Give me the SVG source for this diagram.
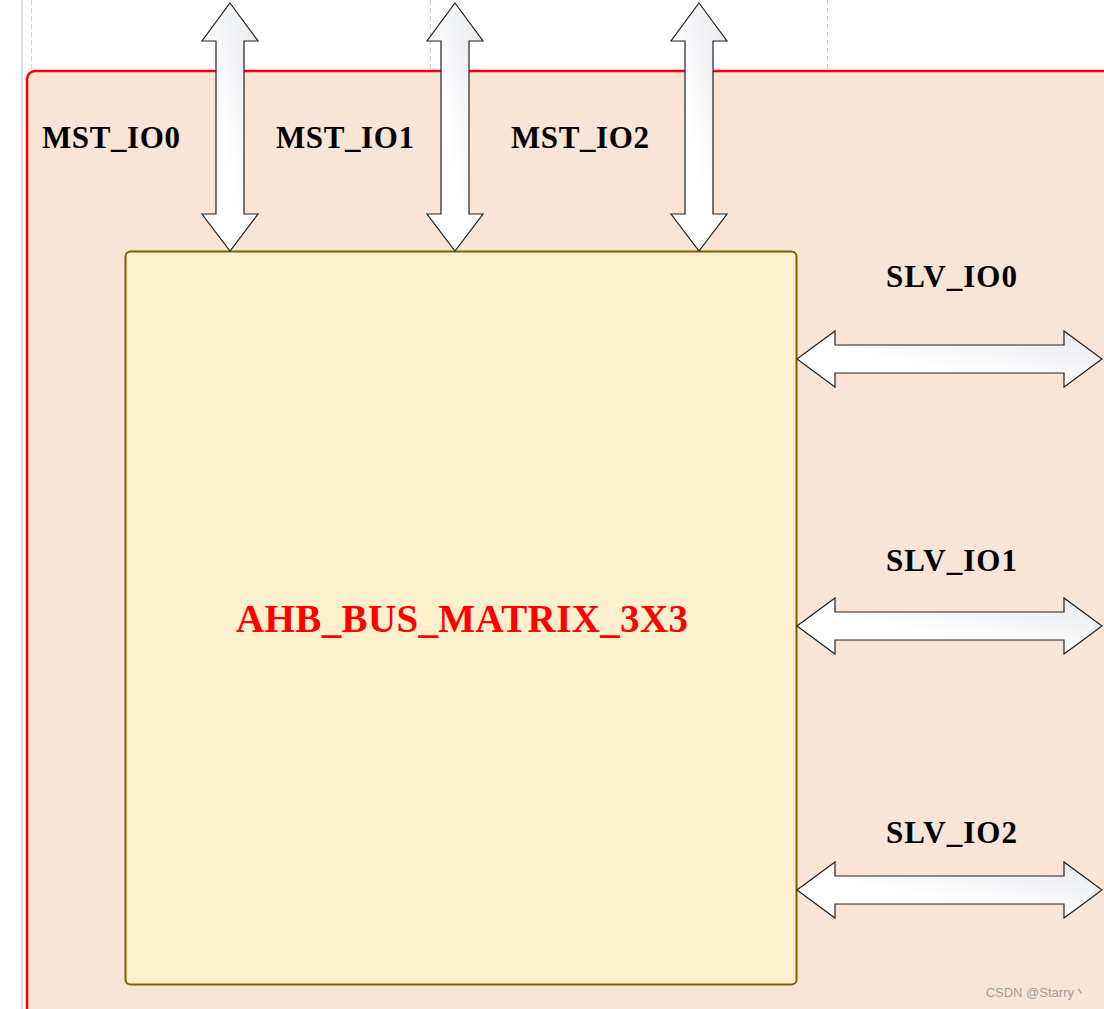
<svg xmlns="http://www.w3.org/2000/svg" width="1104" height="1009" viewBox="0 0 1104 1009">
<defs>
<linearGradient id="g" x1="0" y1="1" x2="1" y2="0"><stop offset="0.4" stop-color="#ffffff"/><stop offset="1" stop-color="#e6e8ee"/></linearGradient>
<style>
.arr{fill:url(#g);stroke:#222;stroke-width:1.2}
.lbl{font-family:"Liberation Serif",serif;font-weight:bold;font-size:31px;fill:#000}
</style>
</defs>
<rect width="1104" height="1009" fill="#fff"/>
<line x1="22" y1="0" x2="22" y2="1009" stroke="#b8bcc6" stroke-width="1"/>
<g stroke="#cfcfcf" stroke-dasharray="5,3"><line x1="31.5" y1="0" x2="31.5" y2="70"/><line x1="430.5" y1="0" x2="430.5" y2="70"/><line x1="827.5" y1="0" x2="827.5" y2="70"/></g>
<g id="outer"><rect x="27" y="71" width="1100" height="960" rx="8" fill="#fae4d6" stroke="#ff0000" stroke-width="2.5"/></g>
<g id="matrix"><rect x="125.5" y="251.5" width="671" height="733" rx="5" fill="#fff0cd" stroke="#7f6000" stroke-width="2"/>
<text x="462" y="632" text-anchor="middle" textLength="452" font-family="Liberation Serif,serif" font-weight="bold" font-size="39" fill="#ff0000">AHB_BUS_MATRIX_3X3</text></g>
<g id="connectors">
<path class="arr" d="M230,3 L258,41 L244,41 L244,214 L258,214 L230,251 L202,214 L216,214 L216,41 L202,41 Z"/>
<path class="arr" d="M455,3 L483,41 L469,41 L469,214 L483,214 L455,251 L427,214 L441,214 L441,41 L427,41 Z"/>
<path class="arr" d="M699,3 L727,41 L713,41 L713,214 L727,214 L699,251 L671,214 L685,214 L685,41 L671,41 Z"/>
<path class="arr" d="M797,359 L835,331 L835,345 L1064,345 L1064,331 L1102,359 L1064,387 L1064,373 L835,373 L835,387 Z"/>
<path class="arr" d="M797,626 L835,598 L835,612 L1064,612 L1064,598 L1102,626 L1064,654 L1064,640 L835,640 L835,654 Z"/>
<path class="arr" d="M797,890 L835,862 L835,876 L1064,876 L1064,862 L1102,890 L1064,918 L1064,904 L835,904 L835,918 Z"/>
</g>
<g id="labels">
<text class="lbl" x="42" y="148" textLength="138">MST_IO0</text>
<text class="lbl" x="276" y="148" textLength="138">MST_IO1</text>
<text class="lbl" x="511" y="148" textLength="138">MST_IO2</text>
<text class="lbl" x="886" y="287" textLength="131">SLV_IO0</text>
<text class="lbl" x="886" y="571" textLength="131">SLV_IO1</text>
<text class="lbl" x="886" y="843" textLength="131">SLV_IO2</text>
</g>
<text x="1087" y="997" text-anchor="end" font-family="Liberation Sans,sans-serif" font-size="13" fill="#a0a0a0">CSDN @Starry丶</text>
</svg>
